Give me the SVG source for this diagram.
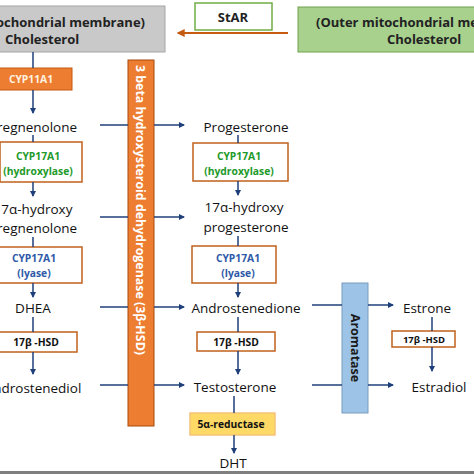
<svg xmlns="http://www.w3.org/2000/svg" width="474" height="474" viewBox="0 0 474 474">
<defs>
<marker id="ab" viewBox="0 0 6 6" refX="5" refY="3" markerWidth="4" markerHeight="4" orient="auto"><path d="M0,0 L6,3 L0,6 z" fill="#1f3f7a"/></marker>
<marker id="ao" viewBox="0 0 6 6" refX="5" refY="3" markerWidth="4" markerHeight="4" orient="auto"><path d="M0,0 L6,3 L0,6 z" fill="#c55a11"/></marker>
<style>
text{font-family:"Open Sans","Noto Sans",sans-serif;}
.lbl{font-size:13.5px;fill:#111;text-anchor:middle;}
.hdr{font-size:13px;font-weight:bold;fill:#222;}
.box{fill:#fff;stroke:#c0601d;stroke-width:1.5;}
.bt{font-size:10.3px;font-weight:bold;text-anchor:middle;}
.g{fill:#1e9a2a;}
.b{fill:#2e5aa8;}
.k{fill:#111;}
.c{stroke:#1f3f7a;stroke-width:1.5;fill:none;}
.ca{stroke:#1f3f7a;stroke-width:1.5;fill:none;marker-end:url(#ab);}
</style>
</defs>
<rect width="474" height="474" fill="#fff"/>
<rect x="0" y="471" width="474" height="3" fill="#7f7f7f"/>

<g id="inner-membrane">
<rect x="-5" y="6" width="170" height="46" fill="#c9c9c9" stroke="#a5a5a5" stroke-width="1"/>
<text class="hdr" x="145" y="27" text-anchor="end">(Inner mitochondrial membrane)</text>
<text class="hdr" x="5" y="44">Cholesterol</text>
</g>
<g id="star">
<rect x="195" y="3" width="77" height="27" fill="#fff" stroke="#70ad47" stroke-width="1.5"/>
<text class="hdr" x="233" y="22" text-anchor="middle">StAR</text>
</g>
<g id="outer-membrane">
<rect x="298" y="7" width="180" height="45" fill="#a9d18e" stroke="#6fa04a" stroke-width="1"/>
<text class="hdr" x="316" y="27">(Outer mitochondrial membrane)</text>
<text class="hdr" x="387" y="44">Cholesterol</text>
</g>

<g id="cyp11a1">
<rect x="-2" y="68" width="74" height="22" fill="#ed7d31" stroke="#c55a11" stroke-width="1"/>
<text class="bt" x="31" y="83" fill="#fff2e0">CYP11A1</text>
</g>
<g id="hsd3b">
<rect x="128" y="60" width="26" height="366" fill="#ed7d31" stroke="#a64a0c" stroke-width="1"/>
<text transform="translate(136,65) rotate(90)" font-size="12.5" font-weight="bold" fill="#fff" textLength="290" lengthAdjust="spacingAndGlyphs">3 beta hydroxysteroid dehydrogenase (3β-HSD)</text>
</g>
<g id="aromatase">
<rect x="342" y="283" width="26" height="130" fill="#9dc3e6" stroke="#7a9cc0" stroke-width="1"/>
<text transform="translate(351,348) rotate(90)" font-size="12.5" font-weight="bold" fill="#1a1a1a" text-anchor="middle">Aromatase</text>
</g>

<g id="pregnenolone"><text class="lbl" x="33" y="132">Pregnenolone</text></g>
<g id="cyp17a1-h-left">
<rect class="box" x="0" y="142" width="82" height="40"/>
<text class="bt g" x="38" y="160">CYP17A1</text>
<text class="bt g" x="38" y="175">(hydroxylase)</text>
</g>
<g id="oh-pregnenolone"><text class="lbl" x="33" y="214">17α-hydroxy</text><text class="lbl" x="33" y="233">pregnenolone</text></g>
<g id="cyp17a1-l-left">
<rect class="box" x="-2" y="247" width="84" height="36"/>
<text class="bt b" x="34" y="262">CYP17A1</text>
<text class="bt b" x="34" y="277">(lyase)</text>
</g>
<g id="dhea"><text class="lbl" x="33" y="313">DHEA</text></g>
<g id="hsd17-left">
<rect class="box" x="-2" y="332" width="79" height="20"/>
<text class="bt k" x="36" y="346">17β -HSD</text>
</g>
<g id="androstenediol"><text class="lbl" x="33" y="393">Androstenediol</text></g>

<g id="progesterone"><text class="lbl" x="246" y="132">Progesterone</text></g>
<g id="cyp17a1-h-right">
<rect class="box" x="193" y="143" width="95" height="38"/>
<text class="bt g" x="239" y="160">CYP17A1</text>
<text class="bt g" x="239" y="175">(hydroxylase)</text>
</g>
<g id="oh-progesterone"><text class="lbl" x="244" y="212">17α-hydroxy</text><text class="lbl" x="246" y="232">progesterone</text></g>
<g id="cyp17a1-l-right">
<rect class="box" x="192" y="246" width="84" height="37"/>
<text class="bt b" x="238" y="262">CYP17A1</text>
<text class="bt b" x="238" y="277">(lyase)</text>
</g>
<g id="androstenedione"><text class="lbl" x="246" y="313">Androstenedione</text></g>
<g id="hsd17-right">
<rect class="box" x="197" y="332" width="78" height="19"/>
<text class="bt k" x="236" y="345.5">17β -HSD</text>
</g>
<g id="testosterone"><text class="lbl" x="235" y="392">Testosterone</text></g>
<g id="reductase">
<rect x="190" y="413" width="85" height="22" fill="#ffd966" stroke="#f4c27a" stroke-width="1.5"/>
<text class="bt k" x="231" y="428">5α-reductase</text>
</g>
<g id="dht"><text class="lbl" x="233" y="468">DHT</text></g>

<g id="estrone"><text class="lbl" x="427" y="313">Estrone</text></g>
<g id="hsd17-estro">
<rect class="box" x="392" y="331" width="63" height="16"/>
<text class="bt k" x="424" y="343" style="font-size:9.5px">17β -HSD</text>
</g>
<g id="estradiol"><text class="lbl" x="439" y="392">Estradiol</text></g>

<g id="connectors">
<path d="M288,33 H178" stroke="#c55a11" stroke-width="2" fill="none" marker-end="url(#ao)"/>
<path class="c" d="M33,52 V68"/>
<path class="ca" d="M33,90 V113"/>
<path class="c" d="M33,135 V142"/>
<path class="ca" d="M33,182 V196"/>
<path class="c" d="M33,237 V247"/>
<path class="ca" d="M33,283 V297"/>
<path class="c" d="M33,317 V332"/>
<path class="ca" d="M33,352 V374"/>
<path class="c" d="M238,135 V143"/>
<path class="ca" d="M238,181 V195"/>
<path class="c" d="M238,236 V246"/>
<path class="ca" d="M238,283 V297"/>
<path class="c" d="M238,317 V332"/>
<path class="ca" d="M238,351 V374"/>
<path class="c" d="M234,396 V413"/>
<path class="ca" d="M234,435 V453"/>
<path class="c" d="M432,317 V331"/>
<path class="ca" d="M432,347 V371"/>
<path class="c" d="M100,125 H128"/><path class="ca" d="M154,125 H184"/>
<path class="c" d="M100,217 H128"/><path class="ca" d="M154,217 H184"/>
<path class="c" d="M100,307 H128"/><path class="ca" d="M154,307 H184"/>
<path class="c" d="M100,385 H128"/><path class="ca" d="M154,385 H184"/>
<path class="c" d="M312,305 H342"/><path class="ca" d="M368,305 H393"/>
<path class="c" d="M312,385 H342"/><path class="ca" d="M368,385 H393"/>
</g>
</svg>
